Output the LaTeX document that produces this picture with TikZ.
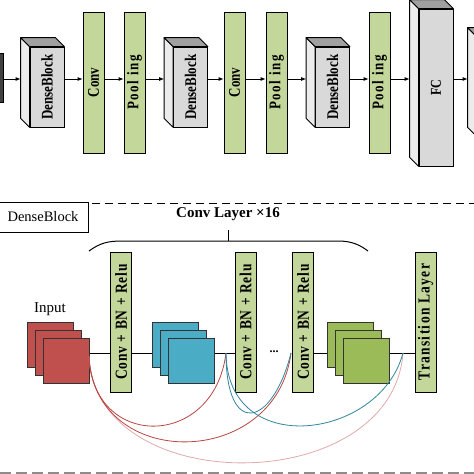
\documentclass[tikz,border=0pt]{standalone}
\usepackage{fontspec}
\setmainfont{Liberation Serif}
\usetikzlibrary{calc,arrows.meta}
\definecolor{lgreen}{RGB}{196,215,155}
\definecolor{frontgray}{RGB}{217,217,217}
\definecolor{sidegray}{RGB}{236,236,236}
\definecolor{topgray}{RGB}{160,160,160}
\definecolor{sqred}{RGB}{192,80,77}
\definecolor{sqblue}{RGB}{75,172,198}
\definecolor{sqgreen}{RGB}{155,187,89}
\definecolor{cred}{RGB}{185,70,65}
\definecolor{cpink}{RGB}{225,170,170}
\definecolor{cteal}{RGB}{49,133,156}
\definecolor{dashgray}{RGB}{140,140,140}
\newcommand\boxsides[1]{%
  \filldraw[fill=sidegray,draw=black,line width=0.8pt,line join=round] (#1.north west) -- ++(-9,-9) -- ($(#1.south west)+(-9,-9)$) -- (#1.south west) -- cycle;
  \filldraw[fill=topgray,draw=black,line width=0.8pt,line join=round] (#1.north west) -- ++(-9,-9) -- ($(#1.north east)+(-9,-9)$) -- (#1.north east) -- cycle;}
\newcommand\tall[1]{\scalebox{1}[1.25]{#1}}
\begin{document}
\begin{tikzpicture}[x=1pt,y=-1pt,
  front/.style={draw,fill=frontgray,line width=0.8pt,inner sep=0pt,minimum width=34pt},
  topcol/.style={draw,fill=lgreen,line width=0.8pt,inner sep=0pt,minimum width=21pt,minimum height=141pt},
  botcol/.style={draw,fill=lgreen,line width=0.8pt,inner sep=0pt,minimum width=21pt,minimum height=140pt},
  vtop/.style={rotate=90,font=\bfseries\fontsize{13}{13}\selectfont},
  vbot/.style={rotate=90,font=\bfseries\fontsize{13.5}{13.5}\selectfont\addfontfeature{LetterSpace=7}},
  sq/.style={draw=black!80,line width=0.8pt,inner sep=0pt,minimum width=46pt,minimum height=45pt,anchor=north west},
  arr/.style={line width=0.8pt,-{Latex[length=5pt,width=4pt]}},
  link/.style={line width=0.8pt},
  skip/.style={line width=0.8pt}]
\clip (0,0) rectangle (474,474);
\useasboundingbox (0,0) rectangle (474,474);
% ---------- top row ----------
\coordinate (ay) at (0,79);
\node[draw,fill=black!75,inner sep=0pt,minimum width=4pt,minimum height=49pt] (bar) at (1.5,77.5) {};
\node[front,minimum height=80pt] (db1) at (47,87) {};
\boxsides{db1}
\node[vtop] at (db1) {\tall{DenseBlock}};
\node[topcol] (conv1) at (93.5,82.5) {};
\node[vtop] at (conv1) {\tall{Conv}};
\node[topcol] (pool1) at (134.5,82.5) {};
\node[vtop,font=\bfseries\fontsize{13}{13}\selectfont\addfontfeature{LetterSpace=12}] at (pool1) {\tall{Pool ing}};
\node[front,minimum height=80pt] (db2) at (190.5,87) {};
\boxsides{db2}
\node[vtop] at (db2) {\tall{DenseBlock}};
\node[topcol] (conv2) at (234.5,82.5) {};
\node[vtop] at (conv2) {\tall{Conv}};
\node[topcol] (pool2) at (276.5,82.5) {};
\node[vtop,font=\bfseries\fontsize{13}{13}\selectfont\addfontfeature{LetterSpace=12}] at (pool2) {\tall{Pool ing}};
\node[front,minimum height=80pt] (db3) at (332.5,87) {};
\boxsides{db3}
\node[vtop] at (db3) {\tall{DenseBlock}};
\node[topcol] (pool3) at (379.5,82.5) {};
\node[vtop,font=\bfseries\fontsize{13}{13}\selectfont\addfontfeature{LetterSpace=12}] at (pool3) {\tall{Pool ing}};
\node[front,minimum height=157pt] (fc) at (436,87.5) {};
\boxsides{fc}
\node[vtop,font=\bfseries\fontsize{12}{12}\selectfont] at (fc) {\tall{FC}};
\node[front,minimum height=99pt] (last) at (494,86.5) {};
\boxsides{last}
\draw[arr] (bar.east |- ay) -- ([xshift=-9pt]db1.west |- ay);
\draw[arr] (db1.east |- ay) -- (conv1.west |- ay);
\draw[arr] (conv1.east |- ay) -- (pool1.west |- ay);
\draw[arr] (pool1.east |- ay) -- ([xshift=-9pt]db2.west |- ay);
\draw[arr] (db2.east |- ay) -- (conv2.west |- ay);
\draw[arr] (conv2.east |- ay) -- (pool2.west |- ay);
\draw[arr] (pool2.east |- ay) -- ([xshift=-9pt]db3.west |- ay);
\draw[arr] (db3.east |- ay) -- (pool3.west |- ay);
\draw[arr] (pool3.east |- ay) -- ([xshift=-9pt]fc.west |- ay);
\draw[arr] (fc.east |- ay) -- ([xshift=-9pt]last.west |- ay);
% ---------- separator & label ----------
\coordinate (d1) at (92,203);
\coordinate (d2) at (474,203);
\draw[line width=0.9pt,dash pattern=on 8pt off 5pt] (d1) -- (d2);
\node[draw,line width=0.9pt,minimum width=90pt,minimum height=30pt,inner sep=0pt,font=\fontsize{14.5}{14.5}\selectfont] (dblabel) at (43,217) {DenseBlock};
\node[font=\bfseries\fontsize{15}{15}\selectfont] (cl) at (228,214) {Conv Layer ×16};
\coordinate (bl) at (89,251);
\coordinate (br) at (368,251);
\coordinate (bm) at (228,241);
\coordinate (bt) at (228,230);
\draw[line width=1pt] (bl) .. controls (100,243) and (108,241) .. (122,241) -- (338,241) .. controls (352,241) and (360,245) .. (br);
\draw[line width=1pt] (bm) -- (bt);
% ---------- bottom row ----------
\node[font=\fontsize{15}{15}\selectfont] (inlabel) at (50,309) {Input};
\node[sq,fill=sqred] (r1) at (27,322) {};
\node[sq,fill=sqred] (r2) at (35,330) {};
\node[sq,fill=sqred] (r3) at (43,338) {};
\node[sq,fill=sqblue] (b1) at (152,322) {};
\node[sq,fill=sqblue] (b2) at (160,330) {};
\node[sq,fill=sqblue] (b3) at (168,338) {};
\node[sq,fill=sqgreen] (g1) at (327,322) {};
\node[sq,fill=sqgreen] (g2) at (335,330) {};
\node[sq,fill=sqgreen] (g3) at (343,338) {};
\node[botcol] (c1) at (121,322) {};
\node[vbot] at (c1) {\tall{Conv + BN + Relu}};
\node[botcol] (c2) at (245.5,322) {};
\node[vbot] at (c2) {\tall{Conv + BN + Relu}};
\node[botcol] (c3) at (303,322) {};
\node[vbot] at (c3) {\tall{Conv + BN + Relu}};
\node[botcol] (tl) at (425.5,322) {};
\node[vbot,font=\bfseries\fontsize{13.5}{13.5}\selectfont\addfontfeature{LetterSpace=10}] at (tl) {\tall{Transition Layer}};
\node[font=\bfseries\fontsize{12}{12}\selectfont] (dots) at (274,352) {...};
\coordinate (ly) at (0,353);
\draw[link] (r3.east |- ly) -- (c1.west |- ly);
\draw[link] (c1.east |- ly) -- (b1.west |- ly);
\draw[link] (b3.east |- ly) -- (c2.west |- ly);
\draw[link] (c3.east |- ly) -- (g1.west |- ly);
\draw[link] (g3.east |- ly) -- (tl.west |- ly);
\coordinate (rs) at (89,356);
\coordinate (j1) at (226,353);
\coordinate (j2) at (291,353);
\coordinate (j3) at (403,353);
\draw[skip,cpink] (rs) .. controls (95,500) and (392,498) .. (j3);
\draw[skip,cred] (rs) .. controls (94,472) and (276,470) .. (j2);
\draw[skip,cred] (rs) .. controls (92,450) and (214,450) .. (j1);
\draw[skip,cteal] (j1) .. controls (227,460) and (380,440) .. (j3);
\draw[skip,cteal] (j1) .. controls (226,438) and (272,428) .. (j2);
\coordinate (g0) at (0,473);
\coordinate (g9) at (474,473);
\draw[dashgray,line width=3pt,dash pattern=on 11pt off 5pt] (g0) -- (g9);
\end{tikzpicture}
\end{document}
